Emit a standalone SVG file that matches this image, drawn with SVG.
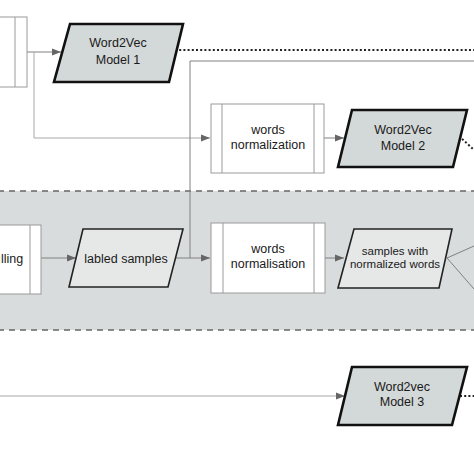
<svg xmlns="http://www.w3.org/2000/svg" width="474" height="474" viewBox="0 0 474 474">
<defs>
<style>
text{font-family:"Liberation Sans",Arial,sans-serif;font-size:12.5px;fill:#1a1a1a;text-anchor:middle}
.box{fill:#fff;stroke:#9a9a9a;stroke-width:1}
.model{fill:#d3d8d8;stroke:#111;stroke-width:2.6;stroke-linejoin:miter}
.data{fill:#e6e8e8;stroke:#222;stroke-width:1.6}
.conn{fill:none;stroke:#a8a8a8;stroke-width:1}
.dark{fill:none;stroke:#808080;stroke-width:1}
.dot{fill:none;stroke:#222;stroke-width:2;stroke-dasharray:2 2.2}
</style>
<marker id="arr" viewBox="0 0 10 10" refX="10" refY="5" markerWidth="9" markerHeight="9" markerUnits="userSpaceOnUse" orient="auto">
<path d="M0,1 L10,5 L0,9 Z" fill="#666"/>
</marker>
</defs>
<rect id="band" x="-2" y="191" width="478" height="139" fill="#d9dcdc" stroke="#666" stroke-width="1.6" stroke-dasharray="6 5"/>
<g id="connectors">
<path class="dark" d="M27,52 H61" marker-end="url(#arr)"/>
<path class="conn" d="M34,52 V138 H210" marker-end="url(#arr)"/>
<path class="dark" d="M324,138 H344" marker-end="url(#arr)"/>
<path class="dark" d="M41,258 H76" marker-end="url(#arr)"/>
<path class="dark" d="M176,258 H210" marker-end="url(#arr)"/>
<path class="dark" d="M190,258 V61 H474"/>
<path class="dark" d="M325,258 H344" marker-end="url(#arr)"/>
<path class="dark" d="M447,258 L474,246 M447,258 L474,289"/>
<path class="conn" d="M0,396 H345" marker-end="url(#arr)"/>
<path class="dot" d="M175,50 H474"/>
<path class="dot" d="M459,136 L474,150"/>
<path class="dot" d="M460,396 H474"/>
<path d="M168,50 H173 M453,131 L457,135 M456,393 L459,397" stroke="#111" stroke-width="2"/>
</g>
<g id="prev-box">
<rect class="box" x="-5" y="17" width="32" height="70"/>
<line class="box" x1="15" y1="17" x2="15" y2="87"/>
</g>
<g id="model1">
<polygon class="model" points="70,24 183,24 169,82 54,82"/>
<text x="118" y="47">Word2Vec</text>
<text x="118" y="64">Model 1</text>
</g>
<g id="norm1">
<rect class="box" x="211" y="104" width="113" height="69"/>
<line class="box" x1="222" y1="104" x2="222" y2="173"/>
<line class="box" x1="314" y1="104" x2="314" y2="173"/>
<text x="268" y="134">words</text>
<text x="268" y="149">normalization</text>
</g>
<g id="model2">
<polygon class="model" points="352,110 467,110 453,167 338,167"/>
<text x="403" y="134">Word2Vec</text>
<text x="403" y="150">Model 2</text>
</g>
<g id="labelling">
<rect class="box" x="-5" y="225" width="46" height="69"/>
<line class="box" x1="30" y1="225" x2="30" y2="294"/>
<text x="1" y="263" style="text-anchor:start">lling</text>
</g>
<g id="labled">
<polygon class="data" points="83,229 183,229 168,287 69,287"/>
<text x="126" y="263">labled samples</text>
</g>
<g id="norm2">
<rect class="box" x="211" y="223" width="114" height="70"/>
<line class="box" x1="223" y1="223" x2="223" y2="293"/>
<line class="box" x1="314" y1="223" x2="314" y2="293"/>
<text x="268" y="253">words</text>
<text x="268" y="268">normalisation</text>
</g>
<g id="samples">
<polygon class="data" points="354,229 452,229 439,288 338,288"/>
<text x="395" y="255" style="font-size:11.5px">samples with</text>
<text x="395" y="268" style="font-size:11.5px">normalized words</text>
</g>
<g id="model3">
<polygon class="model" points="352,367 467,367 452,425 338,425"/>
<text x="402" y="391">Word2vec</text>
<text x="402" y="406">Model 3</text>
</g>
</svg>
